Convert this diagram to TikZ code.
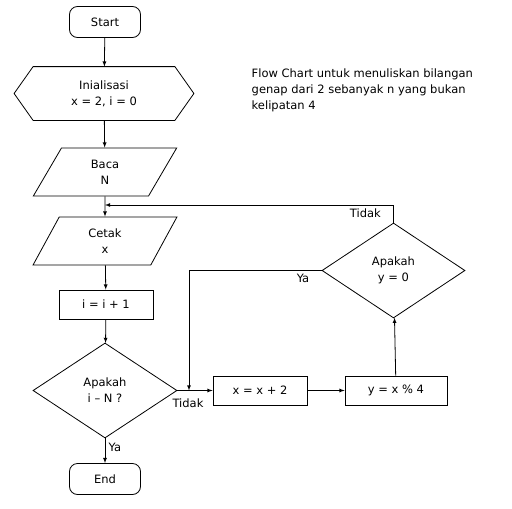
\documentclass[tikz,border=0pt]{standalone}
\usepackage{fontspec}
\setmainfont{DejaVu Sans}
\usetikzlibrary{shapes.geometric}

\begin{document}
\begin{tikzpicture}[x=1pt, y=-1pt, line width=0.8pt,
  font=\fontsize{11.5}{16}\selectfont,
  term/.style={draw, rectangle, rounded corners=8pt, minimum width=71pt, minimum height=31pt},
  proc/.style={draw, rectangle, minimum height=29pt},
  hexa/.style={rectangle, minimum width=179pt, minimum height=53pt, align=center},
  io/.style={draw, trapezium, trapezium left angle=70, trapezium right angle=110, trapezium stretches=true, minimum width=144pt, minimum height=48pt, align=center},
  dec/.style={draw, diamond, minimum width=144pt, minimum height=95pt, inner sep=0pt, align=center},
  flow/.style={-latex}]
  \useasboundingbox (0,0) rectangle (512,509);

  \node (start) at (105,22) [term] {Start};
  \node (init) at (104,93.5) [hexa] {Inialisasi\\x = 2, i = 0};
  \draw (init.west) -- ([xshift=19pt]init.north west) -- ([xshift=-19pt]init.north east)
    -- (init.east) -- ([xshift=-19pt]init.south east) -- ([xshift=19pt]init.south west) -- cycle;
  \node (baca) at (105,172) [io] {Baca\\N};
  \node (cetak) at (105,241) [io] {Cetak\\x};
  \node (inc) at (106,304.5) [proc, minimum width=94pt] {i = i + 1};
  \node (cek) at (105,390.5) [dec] {Apakah\\i -- N ?};
  \node (end) at (105,479) [term] {End};
  \node (addx) at (260,390.5) [proc, minimum width=94pt] {x = x + 2};
  \node (mod) at (396,390.5) [proc, minimum width=102pt] {y = x \% 4};
  \node (cek2) at (393.5,270.5) [dec, minimum width=143pt] {Apakah\\y = 0};
  \node (note) at (248,65) [anchor=north west, align=left] {Flow Chart untuk menuliskan bilangan\\genap dari 2 sebanyak n yang bukan\\kelipatan 4};

  \coordinate (join) at (189,390.5);
  \coordinate (back) at (105,205);

  \draw[flow] (start) -- (init);
  \draw[flow] (init) -- (baca);
  \draw[flow] (baca) -- (cetak);
  \draw[flow] (cetak) -- (inc);
  \draw[flow] (inc) -- (cek);
  \draw[flow] (cek) -- node[pos=0.35, right] {Ya} (end);
  \draw[flow] (cek.east) -- node[pos=0.3, below, yshift=-5pt] {Tidak} (addx.west);
  \draw[flow] (addx) -- (mod);
  \draw[flow] (mod) -- (cek2);
  \draw[flow] (cek2.west) -| node[pos=0.07, below] {Ya} (join);
  \draw[flow] (cek2.north) |- node[pos=0.5, anchor=north east, xshift=-9pt] {Tidak} (back);
\end{tikzpicture}
\end{document}
